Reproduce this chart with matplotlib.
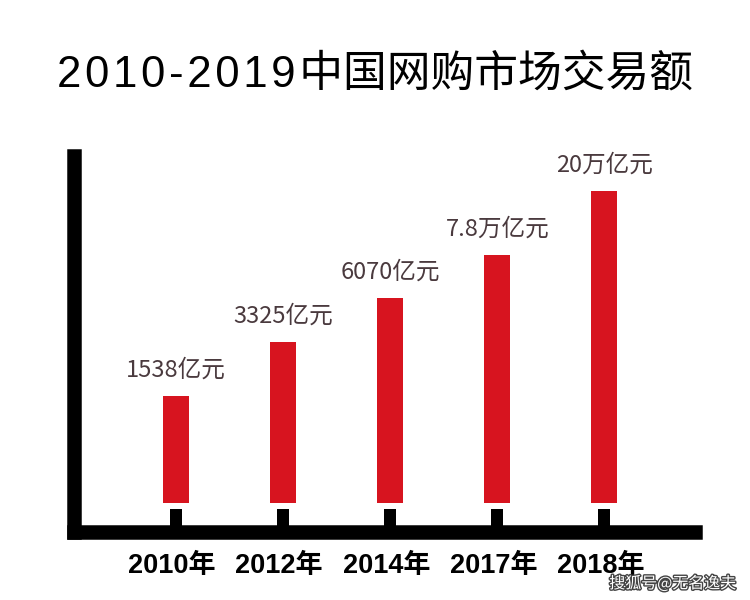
import matplotlib.pyplot as plt
import matplotlib.patheffects as pe
import matplotlib.transforms as mtransforms

# 数据 (柱高为原图的示意高度, 非真实比例)
years = ['2010年', '2012年', '2014年', '2017年', '2018年']
value_labels = ['1538亿元', '3325亿元', '6070亿元', '7.8万亿元', '20万亿元']
bar_heights = [107, 161, 205, 248, 312]
title = '2010-2019中国网购市场交易额'

cjk = ['Liberation Sans', 'Noto Sans CJK SC', 'DejaVu Sans']
plt.rcParams['font.family'] = ['Noto Sans CJK SC', 'DejaVu Sans']

fig = plt.figure(figsize=(7.5, 6), dpi=100)
ax = fig.add_axes([0.098, 0.11333, 0.8283, 0.62625])

x = list(range(len(years)))
base = 29
ax.bar(x, bar_heights, width=0.243, bottom=base, color='#d7141f', zorder=2)
# 小黑块
ax.bar(x, [base - 6] * len(x), width=0.112, bottom=0, color='black', zorder=1)

for xi, h, lab in zip(x, bar_heights, value_labels):
    ax.text(xi, base + h + 19, lab, ha='center', va='baseline',
            fontsize=17, color='#4a3a3e')

ax.set_xlim(-0.958, 4.843)
ax.set_ylim(0, 375.75)
ax.set_xticks(x)
ax.set_xticklabels(years, fontsize=19.5, fontweight='bold', family=cjk)
ax.tick_params(axis='x', length=0, pad=15)
shift = mtransforms.ScaledTranslation(-4 / 100, 0, fig.dpi_scale_trans)
for t in ax.get_xticklabels():
    t.set_transform(t.get_transform() + shift)
ax.set_yticks([])

for s in ['top', 'right']:
    ax.spines[s].set_visible(False)
for s in ['left', 'bottom']:
    ax.spines[s].set_linewidth(10.44)
    ax.spines[s].set_color('black')

# 数字之间加细空格, 模拟原图的字距
head, tail = title[:9], title[9:]
spaced = '\u200a'.join(head) + '\u200a' + tail
fig.text(0.5, 0.855, spaced, ha='center', va='baseline',
         fontsize=31.5, family=cjk, color='black')

wm = fig.text(0.897, 0.027, '搜狐号@无名逸夫', ha='center', va='center',
              fontsize=11.5, color='white')
wm.set_path_effects([pe.withStroke(linewidth=2, foreground='#444444')])

fig.savefig('out.png', dpi=100)
